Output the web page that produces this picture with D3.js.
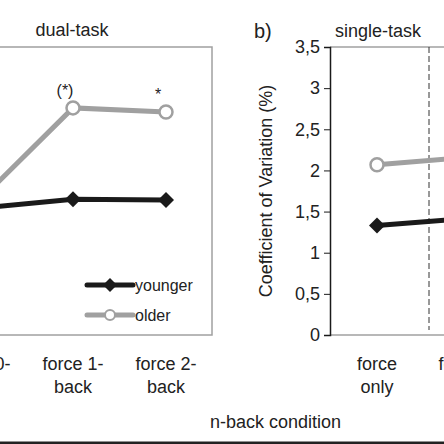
<!DOCTYPE html>
<html><head><meta charset="utf-8">
<script src="https://cdn.jsdelivr.net/npm/d3@7"></script>
<style>body{margin:0;background:#fff}svg{display:block;font-family:"Liberation Sans",Arial,sans-serif}</style>
</head><body>
<svg id="c" width="444" height="444"></svg>
<script>
// dual-task panel (left, partly cut off)
const dualCats = [["force 0-", "back"], ["force 1-", "back"], ["force 2-", "back"]];
const dualYounger = [1.54, 1.65, 1.64];
const dualOlder = [1.64, 2.76, 2.71];
const dualMarks = [null, "(*)", "*"];
// single-task panel (right, partly cut off)
const singleCats = [["force", "only"], ["force 0-", "back"]];
const singleYounger = [1.33, 1.42];
const singleOlder = [2.07, 2.16];
const yTicks = [0, 0.5, 1, 1.5, 2, 2.5, 3, 3.5];

const svg = d3.select('#c');
const y = d3.scaleLinear().domain([0, 3.5]).range([335, 47]);
const xL = d3.scaleLinear().domain([0, 2]).range([-20, 166]);
const xR = d3.scaleLinear().domain([0, 1]).range([377, 469]);
const fmt = d => String(d).replace('.', ',');
const grey = '#a0a0a0', black = '#1a1a1a';
const FS = '18px';

// left panel box
svg.append('rect').attr('x', -10).attr('y', 47).attr('width', 222).attr('height', 288)
  .attr('fill', 'none').attr('stroke', grey).attr('stroke-width', 1.5);
svg.append('text').attr('x', 72).attr('y', 36).attr('text-anchor', 'middle')
  .style('font-size', FS).attr('fill', '#222').text('dual-task');

// right panel frame
svg.append('line').attr('x1', 330).attr('x2', 450).attr('y1', 47).attr('y2', 47).attr('stroke', grey).attr('stroke-width', 1.5);
svg.append('line').attr('x1', 330).attr('x2', 450).attr('y1', 335).attr('y2', 335).attr('stroke', grey).attr('stroke-width', 1.5);
svg.append('line').attr('x1', 429).attr('x2', 429).attr('y1', 47).attr('y2', 330)
  .attr('stroke', '#333').attr('stroke-width', 1).attr('stroke-dasharray', '6,3');
const ax = svg.append('g').attr('transform', 'translate(330,0)')
  .call(d3.axisLeft(y).tickValues(yTicks).tickFormat(fmt).tickSize(6));
ax.select('.domain').attr('stroke', black).attr('stroke-width', 1.5);
ax.selectAll('.tick line').attr('stroke', black);
ax.selectAll('.tick text').style('font-size', FS).attr('fill', '#222').attr('x', -10);
svg.append('text').attr('transform', 'translate(272,191) rotate(-90)').attr('text-anchor', 'middle')
  .style('font-size', FS).attr('fill', '#222').text('Coefficient of Variation (%)');
svg.append('text').attr('x', 254).attr('y', 38).style('font-size', '20px').attr('fill', '#222').text('b)');
svg.append('text').attr('x', 378).attr('y', 37).attr('text-anchor', 'middle')
  .style('font-size', FS).attr('fill', '#222').text('single-task');

const diamond = s => `M0,${-s}L${s},0L0,${s}L${-s},0Z`;
function series(x, vals, color, open) {
  const line = d3.line().x((d, i) => x(i)).y(d => y(d));
  svg.append('path').datum(vals).attr('d', line).attr('fill', 'none')
    .attr('stroke', color).attr('stroke-width', 5);
  vals.forEach((v, i) => {
    if (open) {
      svg.append('circle').attr('cx', x(i)).attr('cy', y(v)).attr('r', 6.5)
        .attr('fill', '#fff').attr('stroke', color).attr('stroke-width', 2.5);
    } else {
      svg.append('path').attr('d', diamond(8))
        .attr('transform', `translate(${x(i)},${y(v)})`).attr('fill', color);
    }
  });
}
series(xL, dualYounger, black, false);
series(xL, dualOlder, grey, true);
series(xR, singleYounger, black, false);
series(xR, singleOlder, grey, true);

dualMarks.forEach((m, i) => {
  if (!m) return;
  svg.append('text').attr('x', xL(i) - 8).attr('y', y(dualOlder[i]) - 12).attr('text-anchor', 'middle')
    .style('font-size', '16px').attr('fill', '#222').text(m);
});

function catLabels(x, cats) {
  cats.forEach((c, i) => {
    c.forEach((t, j) => svg.append('text').attr('x', x(i)).attr('y', 370 + j * 23)
      .attr('text-anchor', 'middle').style('font-size', FS).attr('fill', '#222').text(t));
  });
}
catLabels(xL, dualCats);
catLabels(xR, singleCats);

// legend
const leg = [['younger', black, false], ['older', grey, true]];
leg.forEach(([name, color, open], i) => {
  const ly = 285 + i * 30;
  svg.append('line').attr('x1', 87).attr('x2', 133).attr('y1', ly).attr('y2', ly)
    .attr('stroke', color).attr('stroke-width', 5).attr('stroke-linecap', 'round');
  if (open) svg.append('circle').attr('cx', 110).attr('cy', ly).attr('r', 5)
    .attr('fill', '#fff').attr('stroke', color).attr('stroke-width', 2);
  else svg.append('path').attr('d', diamond(7))
    .attr('transform', `translate(110,${ly})`).attr('fill', color);
  svg.append('text').attr('x', 135).attr('y', ly + 6).style('font-size', '16px').attr('fill', '#222').text(name);
});

svg.append('text').attr('x', 210).attr('y', 428).style('font-size', FS).attr('fill', '#222').text('n-back condition');
svg.append('line').attr('x1', 0).attr('x2', 444).attr('y1', 443).attr('y2', 443).attr('stroke', '#222').attr('stroke-width', 3);
</script>
</body></html>
